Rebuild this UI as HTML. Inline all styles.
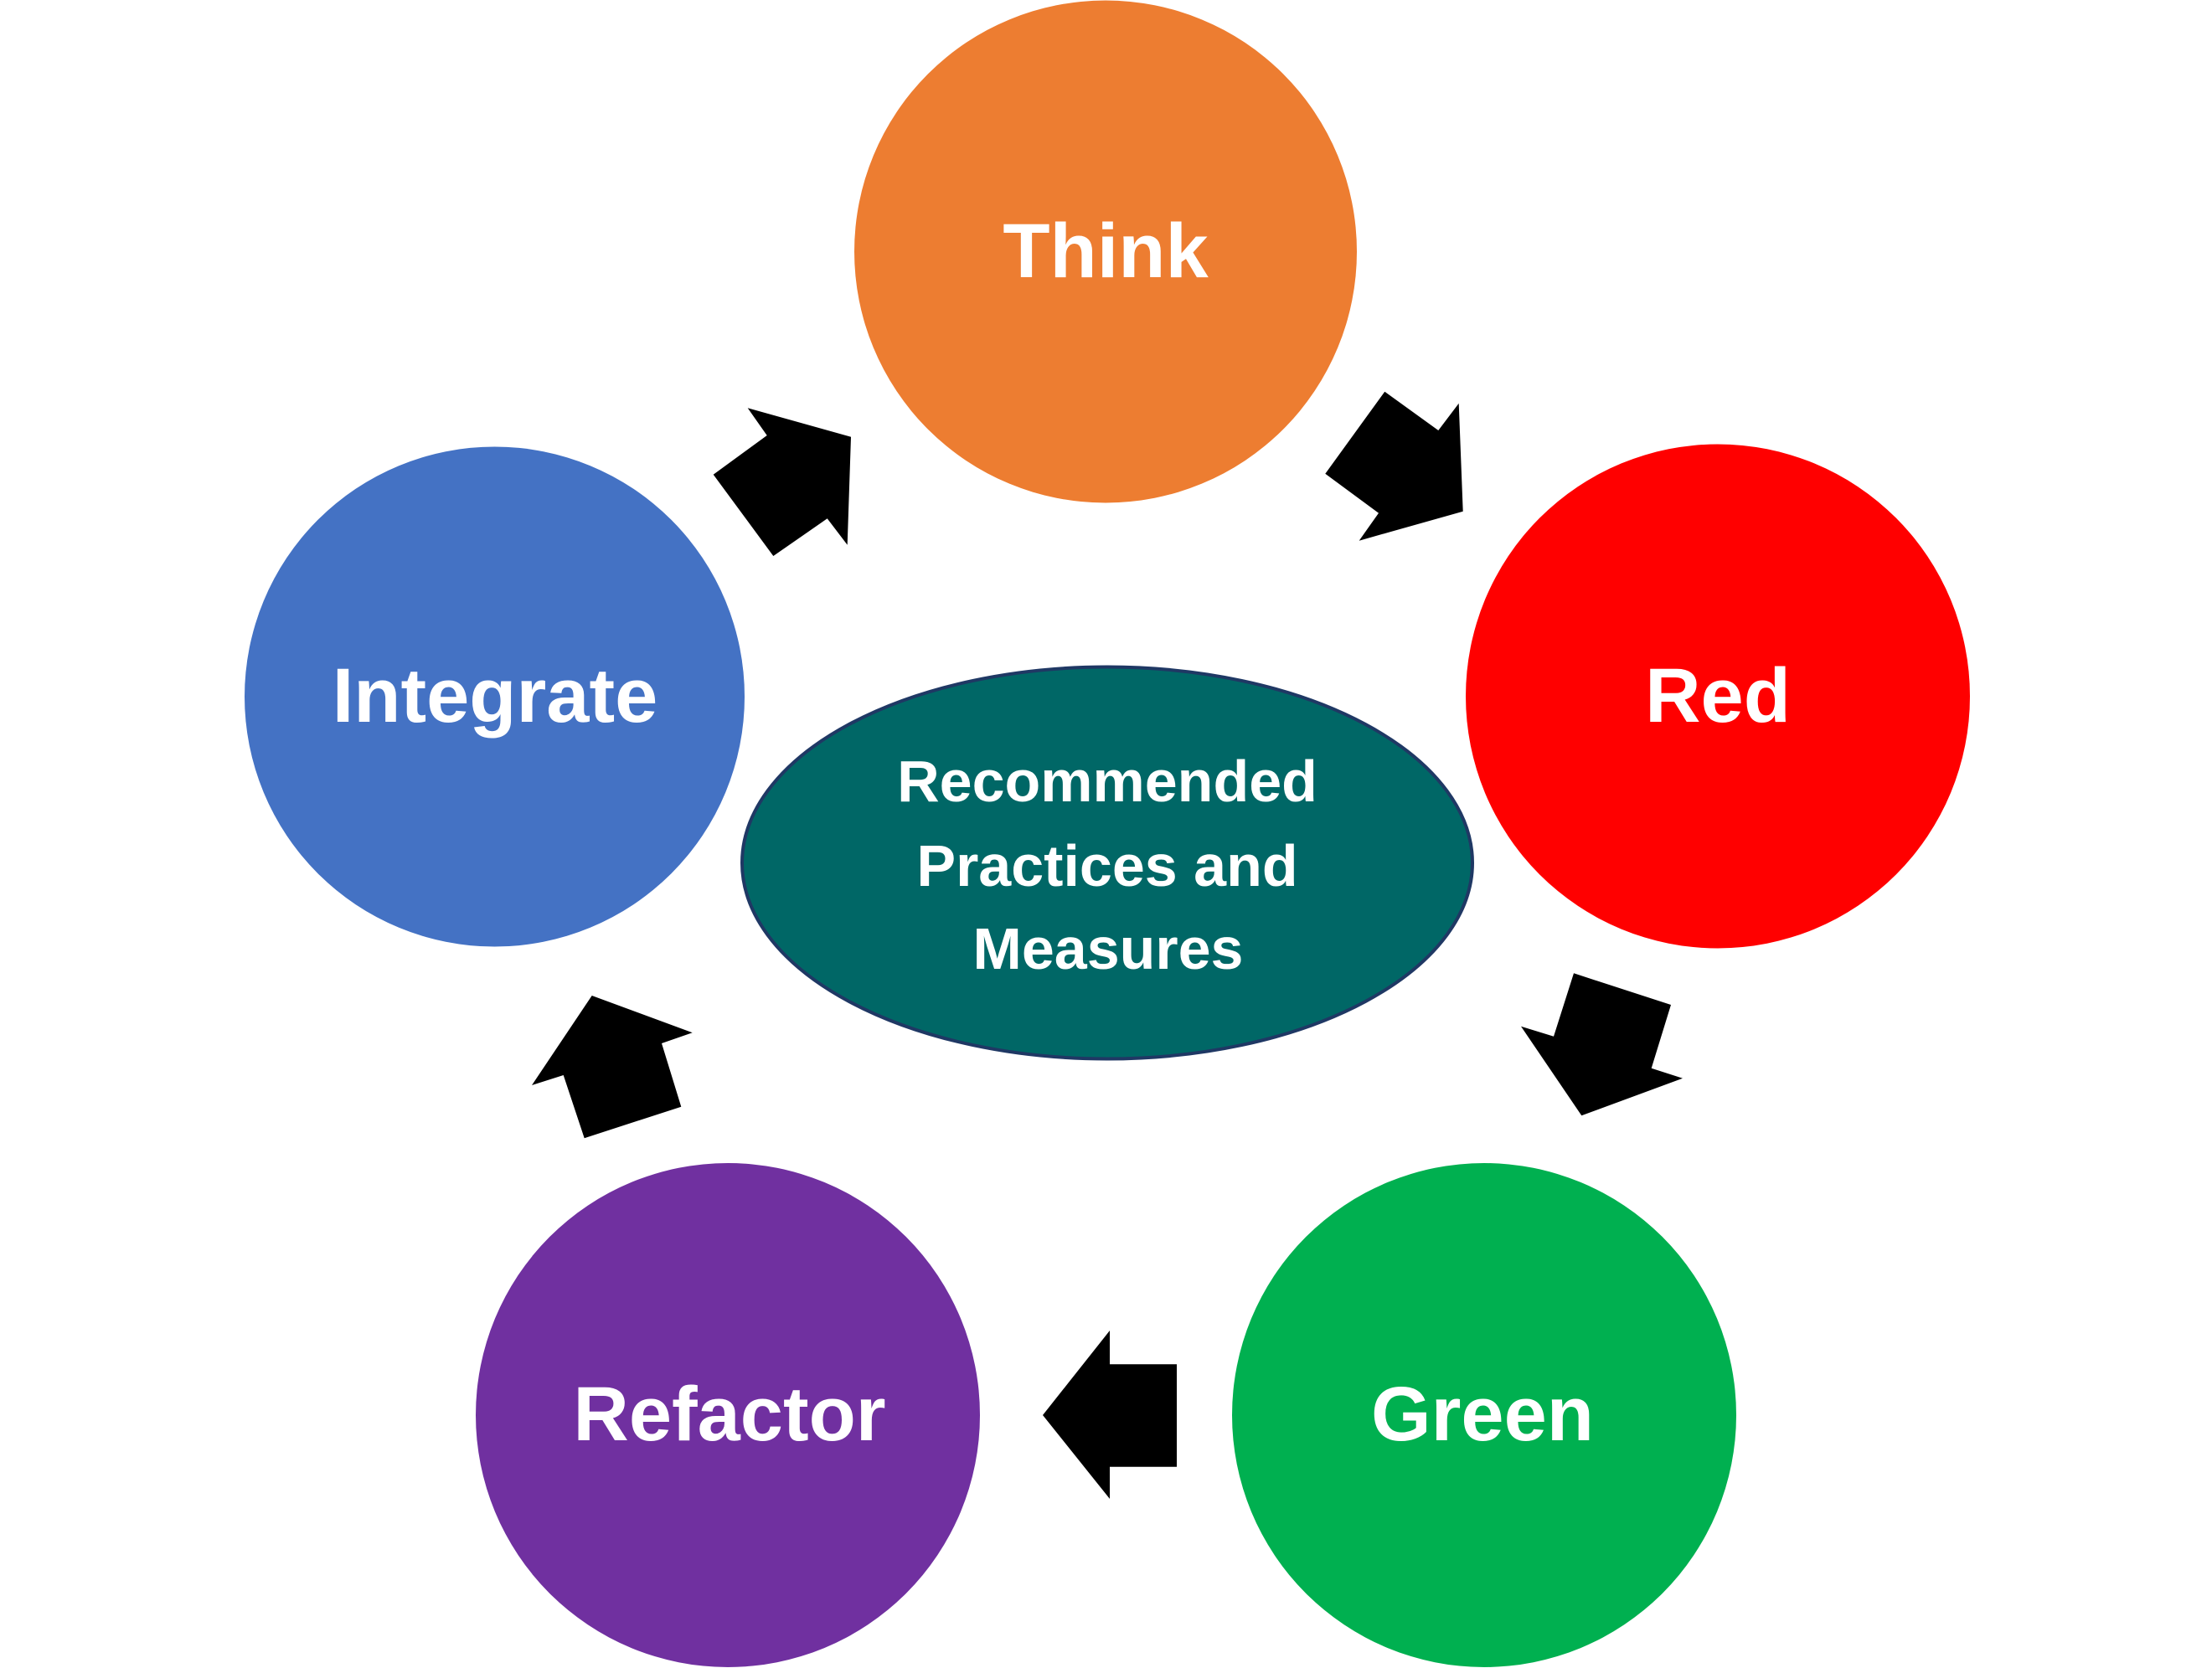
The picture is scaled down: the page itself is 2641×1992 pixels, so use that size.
<!DOCTYPE html>
<html>
<head>
<meta charset="utf-8">
<style>
  html, body { margin: 0; padding: 0; background: #ffffff; }
  svg { display: block; }
  text { font-family: "Liberation Sans", "DejaVu Sans", sans-serif; font-weight: bold; fill: #ffffff; }
</style>
</head>
<body>
<svg width="2641" height="1992" viewBox="0 0 2641 1992" xmlns="http://www.w3.org/2000/svg">
  <rect x="0" y="0" width="2641" height="1992" fill="#ffffff"/>

  <!-- Circles -->
  <circle cx="1320" cy="300.5" r="300" fill="#ED7D31"/>
  <circle cx="2051" cy="831.5" r="301" fill="#FF0000"/>
  <circle cx="590.5" cy="832" r="298.5" fill="#4472C4"/>
  <circle cx="869" cy="1690" r="301" fill="#7030A0"/>
  <circle cx="1772" cy="1690" r="301" fill="#00B050"/>

  <!-- Center ellipse -->
  <ellipse cx="1322" cy="1030.5" rx="436" ry="234" fill="#006766" stroke="#1F3864" stroke-width="4"/>

  <!-- Arrows -->
  <polygon fill="#000" points="892.7,487.3 1016,521.7 1011.7,650.7 987.7,619.3 923.3,664 851.7,566.7 915.7,520"/>
  <polygon fill="#000" points="1653.3,467.7 1717.3,514 1741.7,481.7 1746.7,610.7 1622.7,645.7 1646,612.7 1582.3,565.7"/>
  <polygon fill="#000" points="1879,1162.3 1995,1200 1971.7,1275.7 2009,1287.7 1888.3,1332.3 1816,1225.7 1855,1237.7"/>
  <polygon fill="#000" points="1325,1589 1325,1629.3 1405,1629.3 1405,1751.7 1325,1751.7 1325,1790 1245,1690"/>
  <polygon fill="#000" points="706.7,1189 826.7,1233.3 790,1246 813.3,1321.7 697.7,1359.3 672.7,1284 635,1296"/>

  <!-- Circle labels -->
  <text x="1320" y="331" font-size="92" text-anchor="middle">Think</text>
  <text x="2051" y="862" font-size="92" text-anchor="middle">Red</text>
  <text x="591" y="862" font-size="92" text-anchor="middle">Integrate</text>
  <text x="871" y="1720" font-size="92" text-anchor="middle">Refactor</text>
  <text x="1770" y="1720" font-size="92" text-anchor="middle">Green</text>

  <!-- Center text -->
  <text x="1322" y="957" font-size="70" text-anchor="middle">Recommended</text>
  <text x="1322" y="1058" font-size="70" text-anchor="middle">Practices and</text>
  <text x="1323" y="1157" font-size="70" text-anchor="middle">Measures</text>
</svg>
</body>
</html>
